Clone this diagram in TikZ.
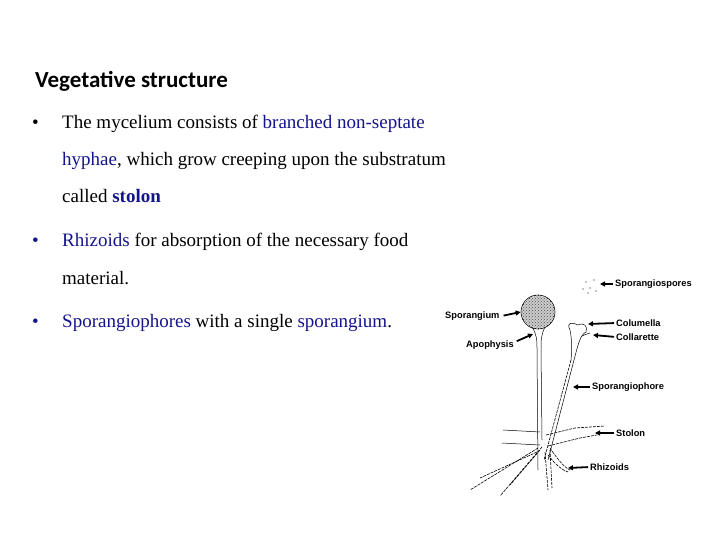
\documentclass[tikz,border=0pt]{standalone}
\usepackage{fontspec}
\setmainfont{Liberation Serif}
\newfontfamily\titlefont{Carlito}
\newfontfamily\labfont{Liberation Sans}
\usetikzlibrary{arrows.meta,patterns}
\definecolor{kblue}{RGB}{20,20,140}
\begin{document}
\begin{tikzpicture}[x=1pt,y=-1pt,
  body/.style={anchor=base west,inner sep=0pt,font=\fontsize{19}{21}\selectfont},
  bul/.style={anchor=base west,inner sep=0pt,font=\fontsize{19}{21}\selectfont},
  lab/.style={anchor=west,inner sep=0pt,font=\labfont\bfseries\fontsize{9.3}{10}\selectfont},
  pt/.style={-{Triangle[length=5pt,width=5pt]},line width=1.8pt,shorten <=2pt},
  cell/.style={line width=0.5pt},
  hy/.style={line width=0.6pt,dash pattern=on 3pt off 1pt}]
\useasboundingbox (0,0) rectangle (720,540);
\node[anchor=base west,inner sep=0pt,font=\titlefont\bfseries\fontsize{23}{25}\selectfont] (title) at (35,88) {Vegetative structure};
\node[bul] (b1) at (32,129) {\textbullet};
\node[body] (t1) at (62,129) {The mycelium consists of \textcolor{kblue}{branched non-septate}};
\node[body] (t2) at (62,166) {\textcolor{kblue}{hyphae}, which grow creeping upon the substratum};
\node[body] (t3) at (62,203) {called \textcolor{kblue}{\bfseries stolon}};
\node[bul,text=kblue] (b2) at (32,247) {\textbullet};
\node[body] (t4) at (62,247) {\textcolor{kblue}{Rhizoids} for absorption of the necessary food};
\node[body] (t5) at (62,284) {material.};
\node[bul,text=kblue] (b3) at (32,327) {\textbullet};
\node[body] (t6) at (62,327) {\textcolor{kblue}{Sporangiophores} with a single \textcolor{kblue}{sporangium}.};

% sporangium
\node[circle,draw,line width=0.6pt,minimum size=34pt,inner sep=0pt,
  pattern=crosshatch dots] (spg) at (538,312) {};
\fill[black!40,opacity=0.5] (538,312) circle (16);
% apophysis and stalk 1
\draw[cell] (532,327) .. controls (537,335) and (537,340) .. (537,350) -- (538,470);
\draw[cell] (545,327) .. controls (541,335) and (541,340) .. (541,350) -- (542,440);
% stalk 2 with columella
\draw[cell] (570,330) .. controls (566,322) and (572,322) .. (578,325) .. controls (584,322) and (588,326) .. (586,332);
\draw[cell] (586,332) .. controls (580,335) and (578,345) .. (574,360) -- (548,460);
\draw[cell] (570,330) .. controls (572,340) and (572,350) .. (571,360);
\draw[hy] (571,360) -- (544,460);
\draw[cell] (582,336) .. controls (585,334) and (588,334) .. (590,333);
% stolons
\draw[cell] (503,430) -- (540,432);
\draw[hy] (546,435) -- (575,428) -- (605,426);
\draw[hy] (548,446) -- (580,438) -- (597,435);
\draw[cell] (502,443) -- (540,445);
% rhizoids
\draw[hy] (542,447) -- (500,496);
\draw[hy] (540,450) -- (510,485);
\draw[hy] (538,448) -- (470,490);
\draw[hy] (537,452) -- (480,478);
\draw[hy] (545,452) -- (548,490);
\draw[hy] (550,450) -- (552,488);
\draw[hy] (550,448) .. controls (558,460) and (565,468) .. (570,470);
\draw[hy] (548,455) .. controls (556,465) and (562,470) .. (568,472);
% spores
\foreach \p in {(586,282),(590,288),(594,280),(588,293),(596,291),(583,289)}
  \fill \p circle (0.6);
\coordinate (spores) at (600,284);

% labels
\node[lab] (l1) at (615,284) {Sporangiospores};
\draw[pt] (l1.west) -- (spores);
\node[lab] (l2) at (445,316) {Sporangium};
\draw[pt] (l2.east) ++(2,0) -- (spg.west);
\node[lab] (l3) at (466,345) {Apophysis};
\coordinate (apo) at (533,334);
\draw[pt] (l3.east) ++(1,-3) -- (apo);
\node[lab] (l4) at (616,323) {Columella};
\coordinate (col) at (588,324);
\draw[pt] (l4.west) -- (col);
\node[lab] (l5) at (616,337) {Collarette};
\coordinate (colr) at (593,335);
\draw[pt] (l5.west) -- (colr);
\node[lab] (l6) at (592,387) {Sporangiophore};
\coordinate (sph) at (573,387);
\draw[pt] (l6.west) -- (sph);
\node[lab] (l7) at (616,433) {Stolon};
\coordinate (sto) at (595,433);
\draw[pt] (l7.west) -- (sto);
\node[lab] (l8) at (590,467) {Rhizoids};
\coordinate (rhz) at (568,468);
\draw[pt] (l8.west) -- (rhz);
\end{tikzpicture}
\end{document}
